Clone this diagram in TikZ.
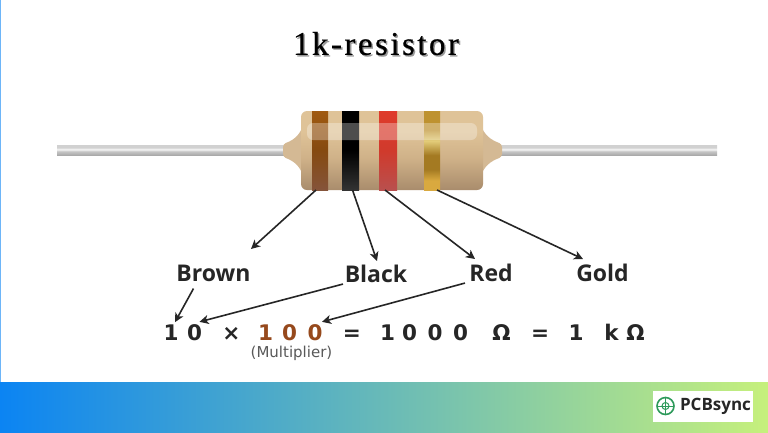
\documentclass[tikz,border=0pt]{standalone}
\usepackage{fontspec}
\setmainfont{Open Sans}
\newfontfamily\titlefont[LetterSpace=7.5,FakeBold=0.5]{Liberation Serif}
\newfontfamily\widefont{DejaVu Sans}
\usetikzlibrary{arrows.meta}
\definecolor{inkdark}{HTML}{262626}
\definecolor{multbrown}{HTML}{96491C}
\definecolor{logogreen}{HTML}{2E9A5B}
\definecolor{tanA}{HTML}{DFC398}
\definecolor{tanB}{HTML}{CFB188}
\definecolor{tanC}{HTML}{A98C6C}
\definecolor{goldA}{HTML}{D9A93F}
\definecolor{goldB}{HTML}{BE9230}
\definecolor{goldC}{HTML}{A47A22}
\definecolor{goldD}{HTML}{E2CB78}
\definecolor{footA}{HTML}{0B84F3}
\definecolor{footB}{HTML}{6CBFB4}
\definecolor{footC}{HTML}{C6F07C}
\definecolor{brownA}{HTML}{A05A10}
\definecolor{brownB}{HTML}{854A10}
\definecolor{brownC}{HTML}{85543A}
\definecolor{redA}{HTML}{DF3B2B}
\definecolor{redB}{HTML}{D03A2C}
\definecolor{redC}{HTML}{B9504E}
\pgfdeclareverticalshading{tanbody}{100bp}{
  color(0bp)=(tanC);
  color(25bp)=(tanC);
  color(45bp)=(tanB);
  color(62bp)=(tanA);
  color(100bp)=(tanA)}
\pgfdeclareverticalshading{goldband}{100bp}{
  color(0bp)=(goldA);
  color(31bp)=(goldA);
  color(38bp)=(goldC);
  color(47bp)=(goldC);
  color(56bp)=(goldD);
  color(63bp)=(goldB);
  color(100bp)=(goldB)}
\pgfdeclareverticalshading{leadwire}{100bp}{
  color(0bp)=(black!35!white);
  color(25bp)=(black!35!white);
  color(45bp)=(black!22!white);
  color(54bp)=(black!3!white);
  color(63bp)=(black!18!white);
  color(100bp)=(black!18!white)}
\tikzset{
  pointer/.style={draw=inkdark, line width=1.6pt, -{Stealth[length=9pt,width=9pt,inset=2.5pt]}},
  band/.style={minimum width=#1, minimum height=79pt, inner sep=0pt, outer sep=0pt},
  colourname/.style={font=\fontsize{23}{24}\selectfont\bfseries, text=inkdark, inner sep=0pt},
  digit/.style={font=\widefont\fontsize{21.5}{24}\selectfont\bfseries, text=inkdark, inner sep=0pt, anchor=base},
}

\begin{document}
\begin{tikzpicture}[x=1pt,y=-1pt]
  \useasboundingbox (0,0) rectangle (768,432);
  \fill[white] (0,0) rectangle (768,432);
  \fill[footA!60!white] (0,0) rectangle (1.3,382);

  % footer
  \shade[left color=footA, middle color=footB, right color=footC]
  (0,382) rectangle (768,432);
  \fill[white] (653,391) rectangle (753,422);
  \node[font=\fontsize{17}{20}\selectfont\bfseries, text=inkdark, inner sep=0pt] (logotext) at (715.5,406) {PCBsync};
  \draw[logogreen, line width=1.6pt] (665.5,406) circle (8.5pt);
  \draw[logogreen, line width=1pt] (657,406) -- (674,406);
  \draw[logogreen, line width=1pt] (665.5,397.5) -- (665.5,414.5);
  \draw[logogreen, line width=1pt] (665.5,406) circle (3.5pt);

  \node[font=\titlefont\fontsize{33}{36}\selectfont, text=black!40!white, inner sep=0pt] (titleshadow) at (377.5,45) {1k-resistor};
  \node[font=\titlefont\fontsize{33}{36}\selectfont, text=black, inner sep=0pt] (title) at (376,43.5) {1k-resistor};

  % leads
  \shade[shading=leadwire] (57,145) rectangle (290,155.5);
  \shade[shading=leadwire] (495,145) rectangle (717,155.5);

  % resistor
  \fill[tanB!90!white, rounded corners=3pt] (304,122) .. controls (300,135) and (294,140) .. (283,144)
  -- (283,157) .. controls (294,161) and (300,166) .. (304,179) -- cycle;
  \fill[tanB!90!white, rounded corners=3pt] (480,122) .. controls (484,135) and (491,140) .. (502,144)
  -- (502,157) .. controls (491,161) and (484,166) .. (480,179) -- cycle;
  \node[shading=tanbody, rounded corners=6pt, minimum width=182pt, minimum height=79pt, inner sep=0pt] (body) at (392,150.5) {};
  \node[band=16pt, top color=brownA, bottom color=brownC, middle color=brownB] (bandbrown) at (320,150.5) {};
  \node[band=17pt, top color=black, bottom color=black!80, middle color=black] (bandblack) at (350.5,150.5) {};
  \node[band=18pt, top color=redA, bottom color=redC, middle color=redB] (bandred) at (388,150.5) {};
  \node[band=16pt, shading=goldband] (bandgold) at (432,150.5) {};
  \fill[white, opacity=.3, rounded corners=6pt] (307,123) rectangle (477,140);

  \node[colourname] (brown) at (213.5,273) {Brown};
  \node[colourname] (black) at (376,274) {Black};
  \node[colourname] (red) at (491,273) {Red};
  \node[colourname] (gold) at (602.5,273) {Gold};

  \coordinate (tobrown) at (251,249);
  \coordinate (toblack) at (377,261);
  \coordinate (tored) at (475,259);
  \coordinate (togold) at (583,259);

  \draw[pointer] ([xshift=-4pt]bandbrown.south) -- (tobrown);
  \draw[pointer] ([xshift=2pt]bandblack.south) -- (toblack);
  \draw[pointer] ([xshift=-3pt]bandred.south) -- (tored);
  \draw[pointer] ([xshift=5pt]bandgold.south) -- (togold);

  % equation
  \foreach \name/\xpos/\txt in {one/171/1, zero/194.5/0, times/231.5/×, eqa/352/=, thou/387.5/1, tha/409.5/0, thb/435/0, thc/460.5/0, oma/501.5/Ω, eqb/540/=, unit/576/1, kilo/611.5/k, omb/635.5/Ω}
    \node[digit] (\name) at (\xpos,340) {\txt};
  \foreach \name/\xpos/\txt in {cent/265.5/1, tena/289.5/0, tenb/315/0}
    \node[digit, text=multbrown] (\name) at (\xpos,340) {\txt};
  \node[font=\widefont\fontsize{15}{16}\selectfont, text=black!65!white, inner sep=0pt] (multiplier) at (291.5,353) {(Multiplier)};

  \coordinate (brownfoot) at ([xshift=-20pt,yshift=-7pt]brown.south);
  \coordinate (blackfoot) at ([xshift=-33pt,yshift=-1pt]black.south);
  \coordinate (redfoot) at ([xshift=-26pt,yshift=-1pt]red.south);
  \draw[pointer] (brownfoot) -- ([xshift=4pt,yshift=2pt]one.north);
  \draw[pointer] (blackfoot) -- ([xshift=5pt,yshift=2pt]zero.north);
  \draw[pointer] (redfoot) -- ([xshift=7pt,yshift=2pt]tenb.north);
\end{tikzpicture}
\end{document}
